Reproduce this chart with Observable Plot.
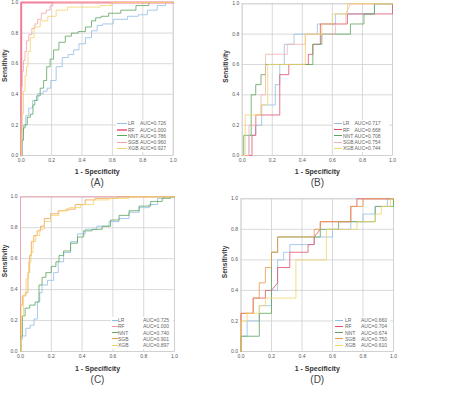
<!DOCTYPE html>
<html><head><meta charset="utf-8">
<script src="https://cdn.jsdelivr.net/npm/d3@7"></script>
<script src="https://cdn.jsdelivr.net/npm/@observablehq/plot@0.6"></script>
<style>
body{margin:0;background:#fff;width:474px;height:394px;overflow:hidden;font-family:"Liberation Sans",Arial,sans-serif;position:relative;}
.panel{position:absolute;}
.panel svg{overflow:visible;}
.leg{position:absolute;background:#fff;}
.row{position:absolute;height:6px;font-size:5px;line-height:6px;color:#666;white-space:nowrap;}
.sw{position:absolute;top:3px;height:0;}
</style></head><body>
<script>
// ---------- data ----------
const seriesNames = ["LR","RF","NNT","SGB","XGB"];
const tickValues = [0,0.2,0.4,0.6,0.8,1.0];
const tickLabels = ["0.0","0.2","0.4","0.6","0.8","1.0"];
const xTitle = "1 - Specificity";
const yTitle = "Sensitivity";
const captions = ["(A)","(B)","(C)","(D)"];

const A_AUC = ["0.726","1.000","0.786","0.960","0.927"];
const B_AUC = ["0.717","0.668","0.708","0.754","0.744"];
const C_AUC = ["0.725","1.000","0.740","0.901","0.897"];
const D_AUC = ["0.660","0.704","0.674","0.750","0.610"];

// panel A (fpr, tpr)
const A_LR = [[0,0],[0.01,0.14],[0.02,0.2],[0.04,0.26],[0.06,0.31],[0.09,0.36],[0.13,0.405],[0.16,0.42],[0.18,0.44],[0.21,0.49],[0.25,0.58],[0.29,0.64],[0.33,0.66],[0.36,0.69],[0.4,0.73],[0.445,0.77],[0.48,0.815],[0.52,0.85],[0.55,0.86],[0.66,0.89],[0.74,0.91],[0.8,0.92],[0.86,0.95],[0.93,0.98],[0.97,1],[1,1]];
const A_RF = [[0,0],[0,1],[1,1]];
const A_NNT = [[0,0],[0.01,0.1],[0.02,0.18],[0.03,0.2],[0.05,0.25],[0.07,0.27],[0.085,0.33],[0.094,0.36],[0.11,0.39],[0.14,0.44],[0.155,0.49],[0.18,0.58],[0.2,0.63],[0.226,0.69],[0.27,0.74],[0.31,0.78],[0.35,0.8],[0.4,0.81],[0.445,0.84],[0.48,0.88],[0.5,0.9],[0.55,0.91],[0.6,0.93],[0.71,0.95],[0.8,0.98],[0.88,1],[1,1]];
const A_SGB = [[0,0],[0.003,0.45],[0.01,0.55],[0.02,0.62],[0.03,0.68],[0.04,0.75],[0.06,0.79],[0.08,0.83],[0.1,0.86],[0.115,0.89],[0.15,0.93],[0.18,0.95],[0.2,0.98],[0.22,1],[1,1]];
const A_XGB = [[0,0],[0.003,0.15],[0.01,0.27],[0.02,0.42],[0.03,0.52],[0.04,0.58],[0.05,0.68],[0.07,0.77],[0.1,0.84],[0.15,0.88],[0.2,0.91],[0.26,0.95],[0.35,0.97],[0.45,0.97],[0.59,0.98],[0.6,1],[1,1]];

// panel B
const B_LR = [[0,0],[0.045,0],[0.045,0.133],[0.09,0.133],[0.09,0.2],[0.13,0.2],[0.13,0.333],[0.22,0.333],[0.22,0.467],[0.25,0.467],[0.25,0.6],[0.28,0.6],[0.28,0.733],[0.345,0.733],[0.345,0.8],[0.5,0.8],[0.5,0.867],[0.62,0.867],[0.62,0.933],[0.88,0.933],[0.88,1],[1,1]];
const B_RF = [[0,0],[0.065,0],[0.065,0.133],[0.09,0.133],[0.09,0.267],[0.25,0.267],[0.25,0.533],[0.31,0.533],[0.31,0.6],[0.44,0.6],[0.44,0.667],[0.47,0.667],[0.47,0.733],[0.52,0.733],[0.52,0.867],[0.7,0.867],[0.7,0.933],[1,0.933],[1,1]];
const B_NNT = [[0,0],[0.01,0],[0.01,0.133],[0.06,0.133],[0.06,0.4],[0.09,0.4],[0.09,0.467],[0.125,0.467],[0.125,0.533],[0.155,0.533],[0.155,0.6],[0.47,0.6],[0.47,0.733],[0.53,0.733],[0.53,0.8],[0.72,0.8],[0.72,0.867],[0.81,0.867],[0.81,0.933],[0.88,0.933],[0.88,1],[1,1]];
const B_SGB = [[0,0],[0.045,0],[0.045,0.2],[0.09,0.2],[0.09,0.267],[0.125,0.267],[0.125,0.4],[0.155,0.4],[0.155,0.667],[0.3,0.667],[0.3,0.733],[0.42,0.733],[0.42,0.8],[0.62,0.8],[0.62,0.867],[0.69,0.867],[0.69,0.933],[0.72,1],[1,1]];
const B_XGB = [[0,0],[0.02,0],[0.02,0.267],[0.125,0.267],[0.125,0.333],[0.17,0.333],[0.17,0.6],[0.42,0.6],[0.42,0.8],[0.53,0.8],[0.53,0.867],[0.6,0.867],[0.6,0.933],[0.7,0.933],[0.7,1],[1,1]];

// panel C
const C_LR = [[0,0],[0.005,0.08],[0.02,0.1],[0.05,0.15],[0.075,0.17],[0.1,0.21],[0.12,0.32],[0.13,0.38],[0.15,0.43],[0.2,0.46],[0.23,0.51],[0.26,0.58],[0.3,0.64],[0.35,0.71],[0.39,0.76],[0.45,0.79],[0.54,0.81],[0.61,0.84],[0.67,0.86],[0.74,0.9],[0.8,0.93],[0.87,0.95],[0.91,0.99],[0.95,1],[1,1]];
const C_RF = [[0,0],[0,1],[1,1]];
const C_NNT = [[0,0],[0.005,0.1],[0.02,0.23],[0.04,0.28],[0.08,0.3],[0.11,0.32],[0.13,0.43],[0.15,0.48],[0.18,0.51],[0.22,0.55],[0.24,0.58],[0.26,0.62],[0.3,0.65],[0.35,0.7],[0.39,0.74],[0.43,0.78],[0.5,0.79],[0.56,0.81],[0.61,0.85],[0.67,0.88],[0.74,0.91],[0.8,0.94],[0.89,0.97],[0.95,0.99],[1,1]];
const C_SGB = [[0,0],[0.004,0.3],[0.02,0.36],[0.043,0.38],[0.054,0.51],[0.065,0.62],[0.076,0.71],[0.097,0.75],[0.12,0.78],[0.14,0.81],[0.17,0.86],[0.22,0.89],[0.27,0.91],[0.32,0.92],[0.39,0.95],[0.45,0.98],[0.52,0.99],[0.74,1],[1,1]];
const C_XGB = [[0,0],[0.004,0.08],[0.01,0.23],[0.03,0.36],[0.043,0.47],[0.06,0.58],[0.076,0.64],[0.087,0.71],[0.11,0.75],[0.14,0.79],[0.17,0.84],[0.22,0.88],[0.28,0.91],[0.35,0.93],[0.43,0.95],[0.52,0.98],[0.63,0.99],[0.78,1],[1,1]];

// panel D
const D_LR = [[0,0],[0,0.1],[0.04,0.1],[0.04,0.2],[0.12,0.2],[0.12,0.3],[0.2,0.3],[0.2,0.4],[0.24,0.4],[0.24,0.6],[0.28,0.6],[0.28,0.65],[0.32,0.65],[0.32,0.7],[0.48,0.7],[0.48,0.75],[0.6,0.75],[0.6,0.8],[0.72,0.8],[0.72,0.85],[0.8,0.85],[0.8,0.9],[0.88,0.9],[0.88,0.95],[0.96,0.95],[0.96,1],[1,1]];
const D_RF = [[0,0],[0,0.25],[0.08,0.25],[0.08,0.35],[0.16,0.35],[0.16,0.4],[0.2,0.4],[0.24,0.45],[0.24,0.55],[0.32,0.55],[0.32,0.65],[0.44,0.65],[0.44,0.7],[0.48,0.7],[0.48,0.75],[0.52,0.8],[0.52,0.85],[0.72,0.85],[0.72,0.95],[0.76,0.95],[0.76,1],[1,1]];
const D_NNT = [[0,0],[0,0.1],[0.12,0.1],[0.12,0.25],[0.2,0.25],[0.2,0.65],[0.24,0.65],[0.24,0.75],[0.52,0.75],[0.52,0.8],[0.64,0.8],[0.64,0.85],[0.88,0.85],[0.88,0.95],[1,0.95],[1,1]];
const D_SGB = [[0,0],[0,0.25],[0.08,0.25],[0.08,0.35],[0.12,0.35],[0.12,0.45],[0.16,0.45],[0.16,0.55],[0.2,0.55],[0.2,0.65],[0.24,0.65],[0.24,0.75],[0.48,0.75],[0.48,0.8],[0.52,0.8],[0.52,0.85],[0.72,0.85],[0.72,0.95],[0.8,0.95],[0.8,1],[1,1]];
const D_XGB = [[0,0],[0,0.2],[0.04,0.2],[0.04,0.25],[0.12,0.25],[0.12,0.3],[0.16,0.3],[0.16,0.35],[0.36,0.35],[0.36,0.6],[0.56,0.6],[0.56,0.8],[0.76,0.8],[0.76,0.85],[0.88,0.85],[0.88,0.9],[0.92,0.9],[0.92,0.95],[0.98,0.95],[0.98,1],[1,1]];

// ---------- styling / layout ----------
const panels = [
  {series:[A_LR,A_RF,A_NNT,A_SGB,A_XGB], auc:A_AUC, cap:captions[0], curve:"step",
   colors:["#93bde6","#f27d98","#5ca65c","#f2a3aa","#f3d36b"], widths:[0.8,2,0.8,0.8,0.8],
   left:0, top:0, w:237, h:195, ml:20.7, mr:64.3, mt:2, mb:40, xl:16, cp:27,
   leg:{x:116, y:120, w:56, rowY:0.3, dy:6.25, sw0:0.7, sw1:10, nx:12, ax:24}},
  {series:[B_LR,B_RF,B_NNT,B_SGB,B_XGB], auc:B_AUC, cap:captions[1], curve:"linear",
   colors:["#93bde6","#e0506e","#5ca65c","#f4b3ae","#f3d36b"], widths:[0.8,0.8,0.8,0.8,0.8],
   left:215, top:0, w:259, h:195, ml:26.7, mr:82, mt:3.3, mb:40, xl:16, cp:27,
   leg:{x:333, y:120, w:56, rowY:0.3, dy:6.25, sw0:0.7, sw1:8.5, nx:10, ax:21.5}},
  {series:[C_LR,C_RF,C_NNT,C_SGB,C_XGB], auc:C_AUC, cap:captions[2], curve:"step",
   colors:["#93bde6","#f19aab","#5ca65c","#f0a04b","#f3d36b"], widths:[0.8,0.8,0.8,0.8,0.8],
   left:0, top:195, w:237, h:199, ml:20, mr:63, mt:1.3, mb:43, xl:17.3, cp:28,
   leg:{x:111, y:316.5, w:62, rowY:0.5, dy:6.3, sw0:1, sw1:6, nx:7, ax:32}},
  {series:[D_LR,D_RF,D_NNT,D_SGB,D_XGB], auc:D_AUC, cap:captions[3], curve:"linear",
   colors:["#93bde6","#e0506a","#5ca65c","#e89a4a","#f3d36b"], widths:[0.8,0.8,0.8,0.8,0.8],
   left:215, top:195, w:259, h:199, ml:25.5, mr:81, mt:3.3, mb:43, xl:17.3, cp:28,
   leg:{x:334, y:316.5, w:56, rowY:0.5, dy:6.3, sw0:1, sw1:8, nx:11, ax:27}}
];

const FONT = "Liberation Sans, Arial, sans-serif";

for (const p of panels) {
  const lineMarks = p.series.map((s, i) => Plot.line(s, {
    x: d => d[0], y: d => d[1], stroke: p.colors[i], strokeWidth: p.widths[i], curve: p.curve
  }));
  const chart = Plot.plot({
    width: p.w, height: p.h,
    marginLeft: p.ml, marginRight: p.mr, marginTop: p.mt, marginBottom: p.mb,
    style: {fontSize: "5px", fontFamily: FONT, color: "#555", background: "transparent", overflow: "visible"},
    x: {domain: [0, 1], ticks: tickValues, tickFormat: (d, i) => tickLabels[i], tickSize: 0, tickPadding: 2.5, label: null},
    y: {domain: [0, 1], ticks: tickValues, tickFormat: (d, i) => tickLabels[i], tickSize: 0, tickPadding: 3, label: null},
    marks: [
      Plot.gridX(tickValues, {stroke: "#cfcfcf", strokeOpacity: 1, strokeWidth: 0.8}),
      Plot.gridY(tickValues, {stroke: "#cfcfcf", strokeOpacity: 1, strokeWidth: 0.8}),
      Plot.frame({stroke: "#cfcfcf", strokeWidth: 0.8}),
      ...lineMarks,
      Plot.text([xTitle], {frameAnchor: "bottom", dy: p.xl, lineAnchor: "middle", text: d => d, fontSize: 7, fontWeight: "bold", fill: "#333"}),
      Plot.text([p.cap], {frameAnchor: "bottom", dy: p.cp, lineAnchor: "middle", text: d => d, fontSize: 10, fill: "#444"}),
      Plot.text([yTitle], {frameAnchor: "left", dx: -16, dy: 3, rotate: -90, text: d => d, fontSize: 6.5, fontWeight: "bold", fill: "#333"})
    ]
  });
  const div = document.createElement("div");
  div.className = "panel";
  div.style.left = p.left + "px"; div.style.top = p.top + "px";
  div.appendChild(chart);
  document.body.appendChild(div);

  // legend (HTML overlay)
  const L = p.leg;
  const leg = document.createElement("div");
  leg.className = "leg";
  leg.style.left = L.x + "px"; leg.style.top = L.y + "px";
  leg.style.width = L.w + "px"; leg.style.height = (L.dy * 5 + 1) + "px";
  seriesNames.forEach((name, i) => {
    const row = document.createElement("div");
    row.className = "row";
    row.style.top = (L.rowY + i * L.dy) + "px";
    row.style.left = "0px"; row.style.width = L.w + "px";
    const sw = document.createElement("div");
    sw.className = "sw";
    sw.style.left = L.sw0 + "px"; sw.style.width = L.sw1 + "px";
    sw.style.borderTop = p.widths[i] + "px solid " + p.colors[i];
    sw.style.top = (3 - p.widths[i] / 2) + "px";
    const t1 = document.createElement("span");
    t1.style.position = "absolute"; t1.style.left = L.nx + "px";
    t1.textContent = name;
    const t2 = document.createElement("span");
    t2.style.position = "absolute"; t2.style.left = L.ax + "px";
    t2.textContent = "AUC=" + p.auc[i];
    row.appendChild(sw); row.appendChild(t1); row.appendChild(t2);
    leg.appendChild(row);
  });
  document.body.appendChild(leg);
}
</script>
</body></html>
